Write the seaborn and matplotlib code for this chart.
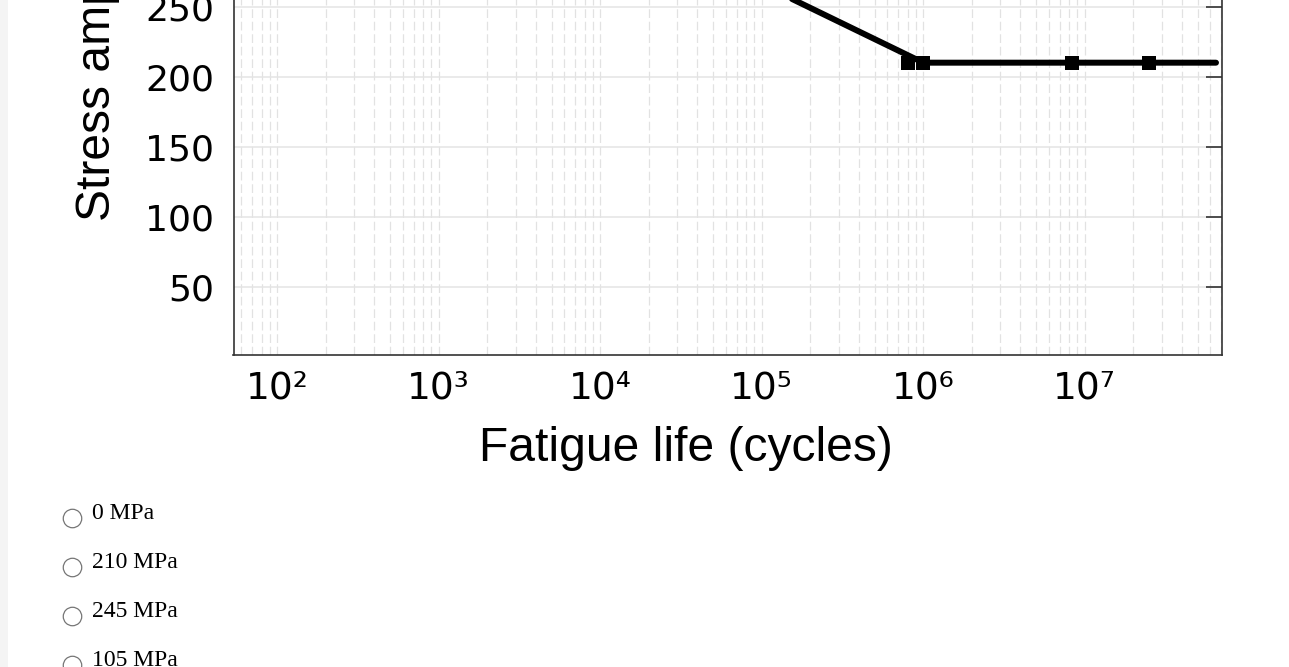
import matplotlib
matplotlib.use("Agg")
import matplotlib.pyplot as plt
from matplotlib.lines import Line2D
from matplotlib.patches import Rectangle
from matplotlib.ticker import LogLocator, FuncFormatter
import seaborn as sns
import pandas as pd
import numpy as np

# S-N curve (knee at 1e6 cycles, endurance limit 210 MPa)
curve_cycles = [1e4, 1e5, 1e6, 6.5e7]
curve_stress = [323, 266, 210, 210]

# test points shown as square markers
test_cycles = [8e5, 1e6, 8.4e6, 2.5e7]
test_stress = [210, 210, 210, 210]

yticks = [50, 100, 150, 200, 250, 300, 350, 400, 450, 500]
choices = ["0 MPa", "210 MPa", "245 MPa", "105 MPa"]

sns.set_theme(style="white")
plt.rcParams["font.family"] = ["DejaVu Sans"]

W, H = 1289, 667
fig = plt.figure(figsize=(W / 100, H / 100), dpi=100)
fig.patch.set_facecolor("white")

# axes box runs above the top of the picture (page screenshot is cropped)
ax = fig.add_axes([233.5 / W, (H - 355) / H, (1221.7 - 233.5) / W, (355 + 415) / H])

curve = pd.DataFrame({"cycles": curve_cycles, "stress": curve_stress})
tests = pd.DataFrame({"cycles": test_cycles, "stress": test_stress})

sns.lineplot(data=curve, x="cycles", y="stress", ax=ax, color="black",
             linewidth=4.3, estimator=None, sort=True, zorder=3)
sns.scatterplot(data=tests, x="cycles", y="stress", ax=ax, color="black",
                marker="s", s=92, linewidth=0, zorder=4)

ax.set_xscale("log")
ax.set_xlim(53.6, 7.05e7)
ax.set_ylim(1.2, 551.2)
ax.set_yticks(yticks)
ax.xaxis.set_minor_locator(LogLocator(base=10, subs=range(2, 10), numticks=20))

sup = str.maketrans("0123456789-", "⁰¹²³⁴⁵⁶⁷⁸⁹⁻")
ax.xaxis.set_major_formatter(FuncFormatter(
    lambda v, pos: "10" + str(int(round(np.log10(v)))).translate(sup)))

ax.grid(axis="y", which="major", color="#e4e4e4", linewidth=1.1, linestyle="-")
ax.grid(axis="x", which="both", color="#e2e2e2", linewidth=0.9, linestyle=(0, (7, 3)))
ax.set_axisbelow(True)

for sp in ax.spines.values():
    sp.set_color("#333333")
    sp.set_linewidth(1.2)

ax.tick_params(axis="both", which="both", direction="in", top=True, right=True,
               length=11.5, width=1.1, color="#222222")
ax.tick_params(axis="y", labelsize=26, pad=14, labelcolor="black")
ax.tick_params(axis="x", which="major", labelsize=27, pad=11, labelcolor="black")

lab_font = dict(family="Liberation Sans", size=34.6, color="black")
ax.set_xlabel("Fatigue life (cycles)", labelpad=14, **lab_font)
ax.set_ylabel("Stress amplitude (MPa)", labelpad=18, **lab_font)
ax.xaxis.label.set_x((686 - 233.5) / (1221.7 - 233.5))

# quiz page around the chart
fig.add_artist(Rectangle((0, 0), 8 / W, 1, transform=fig.transFigure,
                         facecolor="#f4f4f4", edgecolor="none"))
for i, txt in enumerate(choices):
    yb = 519.3 + 49 * i
    fig.add_artist(Line2D([71.7 / W], [1 - (yb - 1.5) / H], marker="o", markersize=13.3,
                          markerfacecolor="white", markeredgecolor="#767676",
                          markeredgewidth=0.9, transform=fig.transFigure))
    fig.text(91.5 / W, 1 - yb / H, txt, family="Liberation Serif", size=17,
             va="baseline", ha="left", color="black")

fig.savefig("out.png", dpi=100)
